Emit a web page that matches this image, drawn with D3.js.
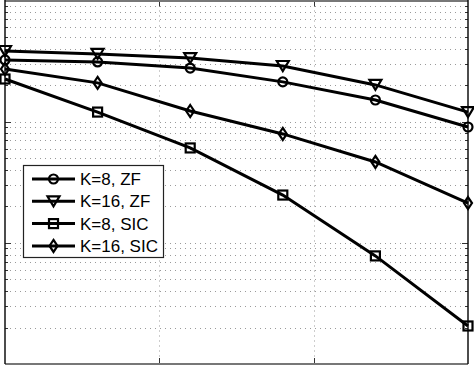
<!DOCTYPE html>
<html>
<head>
<meta charset="utf-8">
<script src="https://cdn.jsdelivr.net/npm/d3@7"></script>
<style>
  body { margin: 0; background: #fff; }
  svg { display: block; }
</style>
</head>
<body>
<div id="chart"></div>
<script>
// data
const xVals = [0, 6, 12, 18, 24, 30];
const xTicks = [0, 10, 20, 30];
const k8zf = [0.323, 0.311, 0.277, 0.213, 0.151, 0.0904];
const k16zf = [0.383, 0.362, 0.335, 0.288, 0.201, 0.120];
const k8sic = [0.225, 0.120, 0.0607, 0.0248, 0.0078, 0.00206];
const k16sic = [0.272, 0.209, 0.1225, 0.0792, 0.0465, 0.0213];
const seriesNames = ["K=8, ZF", "K=16, ZF", "K=8, SIC", "K=16, SIC"];
const seriesMarkers = ["circle", "triangle", "square", "diamond"];

const width = 474, height = 366;
const x0 = 5, x1 = 468, y0 = 0.5, y1 = 364;

const svg = d3.select("#chart").append("svg")
  .attr("width", width)
  .attr("height", height);

const x = d3.scaleLinear().domain([0, 30]).range([x0, x1]);
const y = d3.scaleLog().domain([1e-3, 1]).range([y1, y0]);

// log grid values (majors + minors)
const logTicks = [];
for (let e = -3; e < 0; e++) {
  for (let k = 1; k < 10; k++) logTicks.push(k * Math.pow(10, e));
}
logTicks.push(1);

// dotted grid
const grid = svg.append("g").attr("stroke", "#9a9a9a").attr("stroke-width", 1)
  .attr("stroke-dasharray", "1,4");
grid.selectAll("line.h").data(logTicks).enter().append("line")
  .attr("x1", x0).attr("x2", x1)
  .attr("y1", d => Math.round(y(d)) + 0.5).attr("y2", d => Math.round(y(d)) + 0.5);
grid.selectAll("line.v").data(xTicks.slice(1, -1)).enter().append("line")
  .attr("y1", y0).attr("y2", y1)
  .attr("x1", d => Math.round(x(d)) + 0.5).attr("x2", d => Math.round(x(d)) + 0.5);

// tick marks inside the box
const ticks = svg.append("g").attr("stroke", "#333").attr("stroke-width", 1);
logTicks.forEach(d => {
  const major = Math.abs(Math.log10(d) - Math.round(Math.log10(d))) < 1e-9;
  const len = major ? 6 : 3;
  const yy = Math.round(y(d)) + 0.5;
  ticks.append("line").attr("x1", x0).attr("x2", x0 + len).attr("y1", yy).attr("y2", yy);
  ticks.append("line").attr("x1", x1).attr("x2", x1 - len).attr("y1", yy).attr("y2", yy);
});
xTicks.slice(1, -1).forEach(d => {
  const xx = Math.round(x(d)) + 0.5;
  ticks.append("line").attr("x1", xx).attr("x2", xx).attr("y1", y0).attr("y2", y0 + 6);
  ticks.append("line").attr("x1", xx).attr("x2", xx).attr("y1", y1).attr("y2", y1 - 6);
});

// box
svg.append("line").attr("x1", x0).attr("x2", x1).attr("y1", 1).attr("y2", 1)
  .attr("stroke", "#777").attr("stroke-width", 2);
svg.append("line").attr("x1", x0).attr("x2", x1).attr("y1", y1).attr("y2", y1)
  .attr("stroke", "#777").attr("stroke-width", 2);
svg.append("line").attr("x1", x0).attr("x2", x0).attr("y1", 0).attr("y2", y1)
  .attr("stroke", "#111").attr("stroke-width", 1.5);
svg.append("line").attr("x1", x1).attr("x2", x1).attr("y1", 0).attr("y2", y1)
  .attr("stroke", "#111").attr("stroke-width", 1.5);

function drawMarker(g, type, cx, cy) {
  const m = g.append("g").attr("transform", `translate(${cx},${cy})`)
    .attr("fill", "none").attr("stroke", "#000").attr("stroke-width", 2.2);
  if (type === "circle") {
    m.append("circle").attr("r", 4.5);
  } else if (type === "triangle") {
    m.append("path").attr("d", "M-6,-5L6,-5L0,5Z");
  } else if (type === "square") {
    m.append("rect").attr("x", -4.5).attr("y", -4.5).attr("width", 9).attr("height", 9);
  } else {
    m.append("path").attr("d", "M0,-6L4,0L0,6L-4,0Z");
  }
}

const allSeries = [k8zf, k16zf, k8sic, k16sic];
const line = d3.line().x((d, i) => x(xVals[i])).y(d => y(d));

allSeries.forEach((vals, s) => {
  svg.append("path")
    .attr("d", line(vals))
    .attr("fill", "none")
    .attr("stroke", "#000")
    .attr("stroke-width", 3);
  vals.forEach((v, i) => drawMarker(svg, seriesMarkers[s], x(xVals[i]), y(v)));
});

// legend
const lg = svg.append("g");
lg.append("rect")
  .attr("x", 23.5).attr("y", 165.5).attr("width", 140).attr("height", 92)
  .attr("fill", "#fff").attr("stroke", "#222").attr("stroke-width", 1.2);
seriesNames.forEach((name, i) => {
  const yy = 179 + i * 22.3;
  lg.append("line").attr("x1", 32).attr("x2", 75).attr("y1", yy).attr("y2", yy)
    .attr("stroke", "#000").attr("stroke-width", 3);
  drawMarker(lg, seriesMarkers[i], 53.5, yy);
  lg.append("text")
    .attr("x", 80).attr("y", yy + 6)
    .attr("font-family", "Liberation Sans, Arial, sans-serif")
    .attr("font-size", "17px")
    .attr("fill", "#000")
    .text(name);
});
</script>
</body>
</html>
